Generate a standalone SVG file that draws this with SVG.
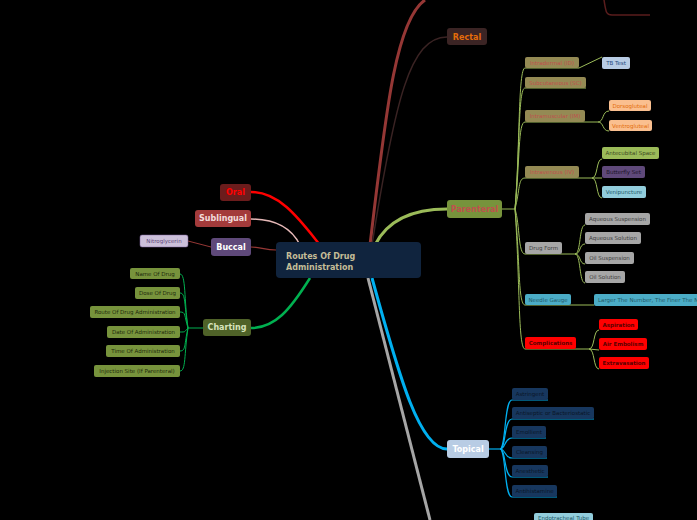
<svg xmlns="http://www.w3.org/2000/svg" width="697" height="520" viewBox="0 0 697 520">
<style>
text{font-family:"DejaVu Sans","Liberation Sans",sans-serif}
.s{font-size:5.5px}
.m{font-size:8px;font-weight:bold}
.c{fill:none}
</style>
<rect width="697" height="520" fill="#000"/>
<g id="connectors" class="c" fill="none">
<path d="M370 245 C385 120 395 20 425 0" stroke="#953735" stroke-width="3"/>
<path d="M372 245 C395 100 410 37 447 37" stroke="#3a2323" stroke-width="1.5"/>
<path d="M604 0 C606 12 606 15 612 15 L650 15" stroke="#5a1d1d" stroke-width="1.5"/>
<path d="M375 245 C390 215 420 209 447 209" stroke="#9bbb59" stroke-width="3"/>
<path d="M372 278 C400 380 420 449 447 449" stroke="#00b0f0" stroke-width="3"/>
<path d="M368 278 C400 400 420 480 430 520" stroke="#a6a6a6" stroke-width="3"/>
<path d="M320 245 C300 220 280 192 251 192" stroke="#ff0000" stroke-width="2.5"/>
<path d="M300 245 C290 225 270 219 251 219" stroke="#e6b9b8" stroke-width="1.5"/>
<path d="M276 250 C265 250 260 247 251 247" stroke="#953735" stroke-width="1.2"/>
<path d="M211 247 L188 241" stroke="#953735" stroke-width="1"/>
<path d="M310 278 C290 310 275 328 251 328" stroke="#00b050" stroke-width="2.5"/>
<g stroke="#00b050" stroke-width="1">
<path d="M203 328 L188 328"/>
<path d="M188 328 C184 300 186 274 180 274"/><path d="M188 328 C184 305 186 293 180 293"/>
<path d="M188 328 C184 315 186 312 180 312"/><path d="M188 328 C184 332 186 332 180 332"/>
<path d="M188 328 C184 345 186 351 180 351"/><path d="M188 328 C184 355 186 371 180 371"/>
</g>
<g stroke="#9bbb59" stroke-width="1">
<path d="M502 209 L515 209"/>
<path d="M515 209 C520 150 518 68 525 68 L579 68"/>
<path d="M579 68 L602 57"/>
<path d="M515 209 C520 150 518 88 525 88 L586 88"/>
<path d="M515 209 C520 160 518 122 525 122 L585 122 L598 122"/>
<path d="M598 122 C604 122 602 111 609 111"/><path d="M598 122 C604 122 602 131 609 131"/>
<path d="M515 209 C520 190 518 178 525 178 L579 178 L592 178"/>
<path d="M592 178 C598 178 596 159 602 159"/><path d="M592 178 L602 178"/><path d="M592 178 C598 178 596 198 602 198"/>
<path d="M515 209 C520 225 518 254 525 254 L562 254 L575 254"/>
<path d="M575 254 C581 254 579 225 585 225"/><path d="M575 254 C581 254 579 244 585 244"/>
<path d="M575 254 C581 254 579 264 585 264"/><path d="M575 254 C581 254 579 283 585 283"/>
<path d="M515 209 C520 260 518 305 525 305 L594 305"/>
<path d="M515 209 C520 280 518 349 525 349 L576 349 L589 349"/>
<path d="M589 349 C595 349 593 330 599 330"/><path d="M589 349 L599 350"/><path d="M589 349 C595 349 593 369 599 369"/>
</g>
<g stroke="#00b0f0" stroke-width="1.2">
<path d="M489 449 L500 449"/>
<path d="M500 449 C506 449 504 400 512 400 L548 400"/>
<path d="M500 449 C506 449 504 419 512 419 L594 419"/>
<path d="M500 449 C506 449 504 438 512 438 L546 438"/>
<path d="M500 449 C506 449 504 458 512 458 L547 458"/>
<path d="M500 449 C506 449 504 477 512 477 L548 477"/>
<path d="M500 449 C506 449 504 497 512 497 L557 497"/>
</g>
</g>
<g id="center"><rect x="276" y="242" width="145" height="36" rx="4" fill="#10243e"/><text x="286" y="259" class="m" fill="#c4bd97">Routes Of  Drug</text><text x="286" y="270" class="m" fill="#c4bd97">Administration</text></g>
<g id="oral"><rect x="220" y="184" width="31" height="17" rx="3" fill="#6b1c1c"/><text x="235.5" y="195" class="m" font-size="7" fill="#ff0000" text-anchor="middle">Oral</text></g>
<g id="sublingual"><rect x="195" y="210" width="56" height="17" rx="3" fill="#a33b3b"/><text x="223" y="221" class="m" font-size="7" fill="#f2dcdb" text-anchor="middle">Sublingual</text></g>
<g id="buccal"><rect x="211" y="238" width="40" height="18" rx="3" fill="#5f497a"/><text x="231" y="250" class="m" font-size="7" fill="#fff" text-anchor="middle">Buccal</text></g>
<g id="nitro"><rect x="140" y="235" width="48" height="12" rx="2" fill="#ccc0da" stroke="#8064a2" stroke-width="0.5"/><text x="164" y="243" class="s" fill="#5f497a" text-anchor="middle">Nitroglycerin</text></g>
<g id="charting"><rect x="203" y="319" width="48" height="17" rx="3" fill="#4f6228"/><text x="227" y="330" class="m" font-size="7" fill="#d7e4bd" text-anchor="middle">Charting</text></g>
<g id="chart-items" fill="#77933c">
<g id="c1"><rect x="130" y="268" width="50" height="11" rx="2" fill="#77933c"/><text x="155" y="276" class="s" fill="#1d2a0b" text-anchor="middle">Name Of  Drug</text></g>
<g id="c2"><rect x="135" y="287" width="45" height="12" rx="2" fill="#77933c"/><text x="157.5" y="295" class="s" fill="#1d2a0b" text-anchor="middle">Dose Of Drug</text></g>
<g id="c3"><rect x="90" y="306" width="90" height="12" rx="2" fill="#77933c"/><text x="135" y="314" class="s" fill="#1d2a0b" text-anchor="middle">Route Of Drug Administration</text></g>
<g id="c4"><rect x="107" y="326" width="73" height="12" rx="2" fill="#77933c"/><text x="143.5" y="334" class="s" fill="#1d2a0b" text-anchor="middle">Date Of  Administration</text></g>
<g id="c5"><rect x="106" y="345" width="74" height="12" rx="2" fill="#77933c"/><text x="143" y="353" class="s" fill="#1d2a0b" text-anchor="middle">Time Of  Administration</text></g>
<g id="c6"><rect x="94" y="365" width="86" height="12" rx="2" fill="#77933c"/><text x="137" y="373" class="s" fill="#1d2a0b" text-anchor="middle">Injection Site (If Parenteral)</text></g>
</g>
<g id="rectal"><rect x="447" y="28" width="40" height="17" rx="3" fill="#3b2424"/><text x="467" y="39.5" class="m" font-size="7" fill="#e46c0a" text-anchor="middle">Rectal</text></g>
<g id="parenteral"><rect x="447" y="200" width="55" height="18" rx="3" fill="#77933c"/><text x="474.5" y="212" class="m" font-size="7" fill="#c0504d" text-anchor="middle">Parenteral</text></g>
<g id="p1"><rect x="525" y="57" width="54" height="11" rx="2" fill="#948a54"/><text x="552" y="65" class="s" fill="#c0504d" text-anchor="middle">Intradermal (ID)</text></g>
<g id="p2"><rect x="525" y="77" width="61" height="11" rx="2" fill="#948a54"/><text x="555.5" y="85" class="s" fill="#c0504d" text-anchor="middle">Subcutaneous (SC)</text></g>
<g id="p3"><rect x="525" y="110" width="60" height="12" rx="2" fill="#948a54"/><text x="555" y="118" class="s" fill="#c0504d" text-anchor="middle">Intramuscular (IM)</text></g>
<g id="p4"><rect x="525" y="166" width="54" height="12" rx="2" fill="#948a54"/><text x="552" y="174" class="s" fill="#c0504d" text-anchor="middle">Intravenous (IV)</text></g>
<g id="p5"><rect x="525" y="242" width="37" height="12" rx="2" fill="#a6a6a6"/><text x="543.5" y="250" class="s" fill="#404040" text-anchor="middle">Drug Form</text></g>
<g id="p6"><rect x="525" y="294" width="46" height="11" rx="2" fill="#4bacc6"/><text x="548" y="302" class="s" fill="#215968" text-anchor="middle">Needle Gauge</text></g>
<g id="p7"><rect x="525" y="337" width="51" height="12" rx="2" fill="#ff0000"/><text x="550.5" y="345" class="s" font-weight="bold" fill="#5a0000" text-anchor="middle">Complications</text></g>
<g id="tb"><rect x="602" y="57" width="28" height="12" rx="2" fill="#b8cce4"/><text x="616" y="65" class="s" fill="#1f497d" text-anchor="middle">TB Test</text></g>
<g id="dorso"><rect x="609" y="100" width="42" height="11" rx="2" fill="#fabf8f"/><text x="630" y="108" class="s" fill="#e46c0a" text-anchor="middle">Dorsogluteal</text></g>
<g id="ventro"><rect x="609" y="120" width="43" height="11" rx="2" fill="#fabf8f"/><text x="630.5" y="128" class="s" fill="#e46c0a" text-anchor="middle">Ventrogluteal</text></g>
<g id="ante"><rect x="602" y="147" width="57" height="12" rx="2" fill="#9bbb59"/><text x="630.5" y="155" class="s" fill="#3b4a1f" text-anchor="middle">Antecubital Space</text></g>
<g id="butter"><rect x="602" y="166" width="43" height="12" rx="2" fill="#5f497a"/><text x="623.5" y="174" class="s" fill="#1a1226" text-anchor="middle">Butterfly Set</text></g>
<g id="veni"><rect x="602" y="186" width="44" height="12" rx="2" fill="#92cddc"/><text x="624" y="194" class="s" fill="#215968" text-anchor="middle">Venipuncture</text></g>
<g id="aqs"><rect x="585" y="213" width="65" height="12" rx="2" fill="#a6a6a6"/><text x="617.5" y="221" class="s" fill="#404040" text-anchor="middle">Aqueous Suspension</text></g>
<g id="aqsol"><rect x="585" y="232" width="56" height="12" rx="2" fill="#a6a6a6"/><text x="613" y="240" class="s" fill="#404040" text-anchor="middle">Aqueous Solution</text></g>
<g id="oils"><rect x="585" y="252" width="49" height="12" rx="2" fill="#a6a6a6"/><text x="609.5" y="260" class="s" fill="#404040" text-anchor="middle">Oil Suspension</text></g>
<g id="oilsol"><rect x="585" y="271" width="40" height="12" rx="2" fill="#a6a6a6"/><text x="605" y="279" class="s" fill="#404040" text-anchor="middle">Oil Solution</text></g>
<g id="larger"><rect x="594" y="294" width="110" height="12" rx="2" fill="#4bacc6"/><text x="598" y="302" class="s" fill="#215968">Larger The Number, The Finer The Needle</text></g>
<g id="asp"><rect x="599" y="319" width="39" height="11" rx="2" fill="#ff0000"/><text x="618.5" y="327" class="s" font-weight="bold" fill="#5a0000" text-anchor="middle">Aspiration</text></g>
<g id="air"><rect x="599" y="338" width="48" height="12" rx="2" fill="#ff0000"/><text x="623" y="346" class="s" font-weight="bold" fill="#5a0000" text-anchor="middle">Air Embolism</text></g>
<g id="extra"><rect x="599" y="357" width="50" height="12" rx="2" fill="#ff0000"/><text x="624" y="365" class="s" font-weight="bold" fill="#5a0000" text-anchor="middle">Extravasation</text></g>
<g id="topical"><rect x="447" y="440" width="42" height="18" rx="3" fill="#b8cce4"/><text x="468" y="452" class="m" font-size="7" fill="#fff" text-anchor="middle">Topical</text></g>
<g id="t1"><rect x="512" y="388" width="36" height="12" rx="2" fill="#17375e"/><text x="530" y="396" class="s" fill="#0a1526" text-anchor="middle">Astringent</text></g>
<g id="t2"><rect x="512" y="407" width="82" height="12" rx="2" fill="#17375e"/><text x="553" y="415" class="s" fill="#0a1526" text-anchor="middle">Antiseptic or Bacteriostatic</text></g>
<g id="t3"><rect x="512" y="426" width="34" height="12" rx="2" fill="#17375e"/><text x="529" y="434" class="s" fill="#0a1526" text-anchor="middle">Emollient</text></g>
<g id="t4"><rect x="512" y="446" width="35" height="12" rx="2" fill="#17375e"/><text x="529.5" y="454" class="s" fill="#0a1526" text-anchor="middle">Cleansing</text></g>
<g id="t5"><rect x="512" y="465" width="36" height="12" rx="2" fill="#17375e"/><text x="530" y="473" class="s" fill="#0a1526" text-anchor="middle">Anesthetic</text></g>
<g id="t6"><rect x="512" y="485" width="45" height="12" rx="2" fill="#17375e"/><text x="534.5" y="493" class="s" fill="#0a1526" text-anchor="middle">Antihistamine</text></g>
<g id="endo"><rect x="534" y="513" width="59" height="12" rx="2" fill="#92cddc"/><text x="563.5" y="520" class="s" fill="#215968" text-anchor="middle">Endotracheal Tube</text></g>
</svg>
